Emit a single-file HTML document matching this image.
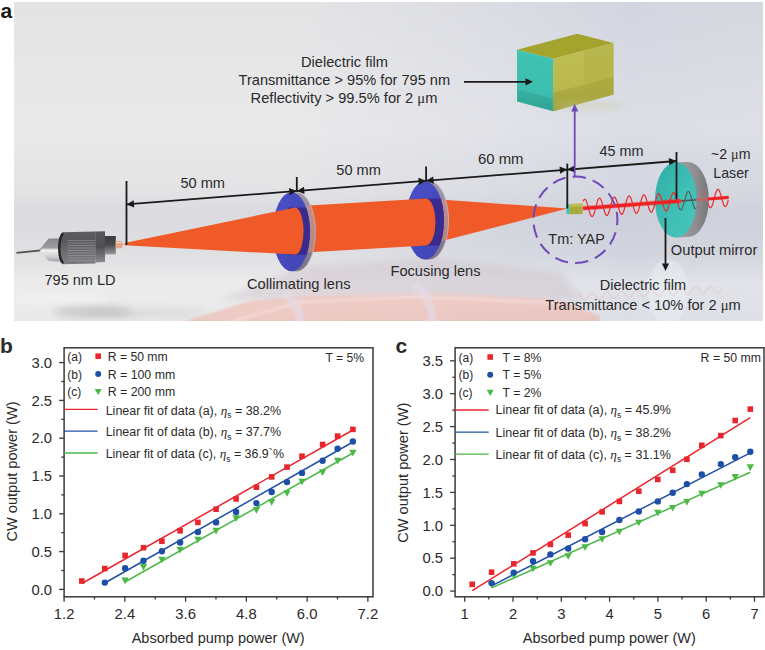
<!DOCTYPE html>
<html><head><meta charset="utf-8"><title>Figure</title>
<style>
html,body{margin:0;padding:0;background:#ffffff;width:765px;height:650px;overflow:hidden;}
svg{display:block;}
text{font-family:"Liberation Sans",sans-serif;}
</style></head><body>
<svg width="765" height="650" viewBox="0 0 765 650">
<rect width="765" height="650" fill="#ffffff"/>
<defs>
<linearGradient id="bgg" x1="0" y1="0" x2="1" y2="0">
 <stop offset="0" stop-color="#e4e4e4"/>
 <stop offset="0.38" stop-color="#e4e4e6"/>
 <stop offset="0.65" stop-color="#dadce3"/>
 <stop offset="0.82" stop-color="#d3d6e0"/>
 <stop offset="1" stop-color="#d6d8e0"/>
</linearGradient>
<linearGradient id="bgv" x1="0" y1="0" x2="0" y2="1">
 <stop offset="0" stop-color="#ffffff" stop-opacity="0"/>
 <stop offset="0.4" stop-color="#ffffff" stop-opacity="0.2"/>
 <stop offset="0.52" stop-color="#ffffff" stop-opacity="0.05"/>
 <stop offset="0.66" stop-color="#b4b8c8" stop-opacity="0.22"/>
 <stop offset="0.76" stop-color="#bcc0cc" stop-opacity="0.14"/>
 <stop offset="0.88" stop-color="#ffffff" stop-opacity="0.3"/>
 <stop offset="1" stop-color="#ffffff" stop-opacity="0.2"/>
</linearGradient>
<linearGradient id="lensg" x1="0" y1="0" x2="1" y2="1">
 <stop offset="0" stop-color="#4b50c8"/>
 <stop offset="1" stop-color="#4044b2"/>
</linearGradient>
<linearGradient id="rimg" x1="0" y1="0" x2="0" y2="1">
 <stop offset="0" stop-color="#a49aa6"/>
 <stop offset="0.5" stop-color="#8e8496"/>
 <stop offset="1" stop-color="#7a7488"/>
</linearGradient>
<linearGradient id="mirg" x1="0" y1="0" x2="1" y2="1">
 <stop offset="0" stop-color="#2fada5"/>
 <stop offset="0.5" stop-color="#3dbdb3"/>
 <stop offset="1" stop-color="#48c8bc"/>
</linearGradient>
<linearGradient id="mrim" x1="0" y1="0" x2="1" y2="0">
 <stop offset="0" stop-color="#a2a2a4"/>
 <stop offset="0.6" stop-color="#8e8e90"/>
 <stop offset="1" stop-color="#77777a"/>
</linearGradient>
<linearGradient id="silver" x1="0" y1="0" x2="0" y2="1">
 <stop offset="0" stop-color="#8a8a8c"/>
 <stop offset="0.38" stop-color="#9c9c9e"/>
 <stop offset="0.5" stop-color="#f2f2f2"/>
 <stop offset="0.75" stop-color="#d2d2d4"/>
 <stop offset="1" stop-color="#a4a4a6"/>
</linearGradient>
<linearGradient id="knurl" x1="0" y1="0" x2="0" y2="1">
 <stop offset="0" stop-color="#5e5e62"/>
 <stop offset="0.25" stop-color="#58585c"/>
 <stop offset="0.6" stop-color="#6c6c70"/>
 <stop offset="1" stop-color="#7e7e82"/>
</linearGradient>
<linearGradient id="body2" x1="0" y1="0" x2="0" y2="1">
 <stop offset="0" stop-color="#58585b"/>
 <stop offset="0.5" stop-color="#505053"/>
 <stop offset="1" stop-color="#8c8c8e"/>
</linearGradient>
<linearGradient id="body3" x1="0" y1="0" x2="0" y2="1">
 <stop offset="0" stop-color="#3c3c3f"/>
 <stop offset="0.45" stop-color="#48484b"/>
 <stop offset="1" stop-color="#9a9a9c"/>
</linearGradient>
<linearGradient id="refl" x1="0" y1="0" x2="0" y2="1">
 <stop offset="0" stop-color="#f4d0c8" stop-opacity="0.3"/>
 <stop offset="0.25" stop-color="#f2c0b6" stop-opacity="0.7"/>
 <stop offset="1" stop-color="#eeb4a8" stop-opacity="0.6"/>
</linearGradient>
<linearGradient id="boxside" x1="0" y1="0" x2="0" y2="1">
 <stop offset="0" stop-color="#bfbf55"/>
 <stop offset="0.65" stop-color="#b9b94e"/>
 <stop offset="1" stop-color="#a3a23a"/>
</linearGradient>
<linearGradient id="boxfront" x1="0" y1="0" x2="0" y2="1">
 <stop offset="0" stop-color="#40c3b2"/>
 <stop offset="0.7" stop-color="#3dbeae"/>
 <stop offset="1" stop-color="#33a898"/>
</linearGradient>
<filter id="blur3" x="-50%" y="-50%" width="200%" height="200%"><feGaussianBlur stdDeviation="3"/></filter>
<filter id="blur4" x="-50%" y="-100%" width="200%" height="300%"><feGaussianBlur stdDeviation="4"/></filter>
<filter id="blur1" x="-50%" y="-50%" width="200%" height="200%"><feGaussianBlur stdDeviation="1.2"/></filter>
<filter id="blur05" x="-20%" y="-50%" width="140%" height="200%"><feGaussianBlur stdDeviation="0.6"/></filter>
<clipPath id="panel"><rect x="14" y="2" width="749" height="319"/></clipPath>
<clipPath id="l1"><ellipse cx="291.5" cy="231.8" rx="18.5" ry="39.5"/></clipPath>
<clipPath id="l2"><ellipse cx="425" cy="220.4" rx="19" ry="39.2"/></clipPath>
<clipPath id="mf"><ellipse cx="675.8" cy="199.9" rx="20.8" ry="37.6"/></clipPath>
</defs>
<rect x="14" y="2" width="749" height="319" fill="url(#bgg)"/>
<rect x="14" y="2" width="749" height="319" fill="url(#bgv)"/>
<g clip-path="url(#panel)">
<ellipse cx="93" cy="312" rx="40" ry="5" fill="#9c9ca2" opacity="0.5" filter="url(#blur4)"/>
<ellipse cx="150" cy="313" rx="60" ry="4" fill="#b0b0b4" opacity="0.3" filter="url(#blur4)"/>
<ellipse cx="60" cy="299" rx="50" ry="4" fill="#ffffff" opacity="0.35" filter="url(#blur3)"/>
<path d="M220 300L300 266L440 258L560 272L585 300Z" fill="#cdbfc8" opacity="0.45" filter="url(#blur3)"/>
<path d="M175 324L250 301L300 296L430 291L560 300L600 316L600 324Z" fill="url(#refl)" filter="url(#blur1)"/>
<path d="M230 322L300 302L420 297L560 303" fill="none" stroke="#ffffff" stroke-opacity="0.25" stroke-width="3" filter="url(#blur1)"/>
<path d="M284 294Q300 303 300 324" fill="none" stroke="#e4def0" stroke-opacity="0.55" stroke-width="8" filter="url(#blur1)"/>
<path d="M415 285Q432 296 432 324" fill="none" stroke="#e4def0" stroke-opacity="0.55" stroke-width="8" filter="url(#blur1)"/>
<ellipse cx="668" cy="292" rx="20" ry="33" fill="#eef6f8" opacity="0.4" filter="url(#blur1)"/>
<path d="M578 293.65L579 294.32L580 295.45L581 296.83L582 298.22L583 299.35L584 300.02L585 300.09L586 299.54L587 298.46L588 297.04L589 295.51L590 294.14L591 293.16L592 292.73L593 292.93L594 293.7L595 294.9L596 296.31L597 297.66L598 298.71L599 299.27L600 299.21L601 298.55L602 297.39L603 295.92L604 294.4L605 293.09L606 292.21L607 291.91L608 292.22L609 293.1L610 294.36L611 295.78L612 297.09L613 298.06L614 298.49L615 298.31L616 297.54L617 296.3L618 294.8L619 293.3L620 292.06L621 291.29L622 291.11L623 291.54L624 292.51L625 293.82L626 295.24L627 296.5L628 297.38L629 297.69L630 297.39L631 296.51L632 295.2L633 293.68L634 292.21L635 291.05L636 290.39L637 290.33L638 290.89L639 291.94L640 293.29L641 294.7L642 295.9L643 296.67L644 296.87L645 296.44L646 295.46L647 294.09L648 292.56L649 291.14L650 290.06L651 289.51L652 289.58L653 290.25L654 291.38L655 292.76L656 294.15L657 295.28L658 295.95L659 296.02L660 295.47L661 294.39L662 292.97L663 291.44L664 290.07L665 289.09L666 288.66L667 288.86L668 289.63L669 290.83L670 292.24L671 293.59L672 294.64L673 295.2L674 295.14L675 294.48L676 293.32L677 291.85L678 290.33L679 289.02L680 288.14L681 287.84L682 288.15L683 289.03L684 290.29L685 291.71L686 293.02L687 293.99L688 294.42L689 294.24L690 293.47L691 292.23L692 290.73L693 289.23L694 287.99L695 287.22L696 287.04L697 287.47L698 288.44L699 289.75L700 291.17L701 292.43L702 293.31L703 293.62L704 293.32L705 292.44L706 291.13L707 289.61L708 288.14L709 286.98L710 286.32L711 286.26L712 286.82L713 287.87L714 289.22L715 290.63L716 291.83L717 292.6L718 292.8L719 292.37L720 291.39L721 290.02L722 288.49" fill="none" stroke="#f08c8c" stroke-opacity="0.22" stroke-width="1.4" filter="url(#blur05)"/>
</g>
<path d="M440 199.4L567.5 208.6L440 241.6Z" fill="#F05A28"/>
<clipPath id="rim2"><path d="M425 181.2L429.6 181.2A19 39.2 0 0 1 429.6 259.6L425 259.6Z"/></clipPath>
<path d="M425 181.2L429.6 181.2A19 39.2 0 0 1 429.6 259.6L425 259.6Z" fill="url(#rimg)"/>
<rect x="425" y="199.5" width="25.6" height="41.5" fill="#e8907a" opacity="0.45" clip-path="url(#rim2)"/>
<path d="M429.6 181.2A19 39.2 0 0 1 429.6 259.6" fill="none" stroke="#c4bcc8" stroke-width="0.9" opacity="0.8"/>
<ellipse cx="425" cy="220.4" rx="19" ry="39.2" fill="url(#lensg)"/>
<g clip-path="url(#l2)"><rect x="420" y="198.5" width="30" height="47" fill="#3A2C8E"/></g>
<path d="M305 205.8L426.5 198.5A9.5 23.5 0 0 1 426.5 245.4L305 252.5Z" fill="#F05A28"/>
<clipPath id="rim1"><path d="M291.5 192.3L296.9 192.3A18.5 39.5 0 0 1 296.9 271.3L291.5 271.3Z"/></clipPath>
<path d="M291.5 192.3L296.9 192.3A18.5 39.5 0 0 1 296.9 271.3L291.5 271.3Z" fill="url(#rimg)"/>
<rect x="291.5" y="206" width="25.9" height="46.5" fill="#e8907a" opacity="0.45" clip-path="url(#rim1)"/>
<path d="M296.9 192.3A18.5 39.5 0 0 1 296.9 271.3" fill="none" stroke="#c4bcc8" stroke-width="0.9" opacity="0.8"/>
<ellipse cx="291.5" cy="231.8" rx="18.5" ry="39.5" fill="url(#lensg)"/>
<g clip-path="url(#l1)"><rect x="288" y="207.6" width="30" height="47.2" fill="#3A2C8E"/></g>
<path d="M124.5 243L294.2 207.7A8.5 23.5 0 0 1 295.8 254.6L124.5 245.3Z" fill="#F05A28"/>
<path d="M16.5 252.9L41 250.4" stroke="#505052" stroke-width="1.6"/>
<path d="M39.7 250.6L48.7 239.2L60.5 238.9L60.5 261.7L48.7 261Z" fill="url(#silver)"/>
<path d="M39.7 250.6L48.7 239.2L60.5 238.9" fill="none" stroke="#6c6c6e" stroke-width="0.8"/>
<path d="M63 232.3L95.5 231.4L95.5 263.4L63 264.3A4.6 16 0 0 1 63 232.3Z" fill="url(#knurl)"/>
<path d="M67.5 240.5H95 M67.5 243H95 M67.5 245.5H95 M67.5 248H95 M67.5 250.5H95 M67.5 253H95 M67.5 255.5H95 M67.5 258H95 M67.5 260.5H95" stroke="#a4a4a8" stroke-width="0.9" opacity="0.55"/>
<path d="M63.5 234A4.2 14.3 0 0 0 63.5 262.6" fill="none" stroke="#26262a" stroke-width="2.4"/>
<path d="M95.3 231.4L105 231.2L105 262L95.3 262.6Z" fill="url(#body2)"/>
<path d="M104.8 236L115.8 235.9L115.8 254.3L104.8 254.5Z" fill="url(#body3)"/>
<path d="M115.6 241L121.6 241Q124.6 244.6 121.6 248.3L115.6 248.3Z" fill="#dfa98a"/>
<path d="M116 242.5H121.5" stroke="#f4d4c0" stroke-width="1"/>
<path d="M569.6 204L582.6 203.6L582.6 214L569.6 214.3Z" fill="#a9a83a"/>
<path d="M569.6 204L582.6 203.6L582.6 206.5L569.6 207Z" fill="#c2c15a" opacity="0.8"/>
<path d="M566.4 204.6L569.6 204L569.6 214.3L566.4 213.7Z" fill="#3cc2b0"/>
<path d="M675.8 162.3L688 161.9A20.8 37.6 0 0 1 688 237.1L675.8 237.5Z" fill="url(#mrim)"/>
<ellipse cx="675.8" cy="199.9" rx="20.8" ry="37.6" fill="url(#mirg)"/>
<path d="M583 201.54L583.7 200.05L584.4 199.27L585.1 199.27L585.8 200.06L586.5 201.54L587.2 203.6L587.9 206.04L588.6 208.65L589.3 211.19L590 213.43L590.7 215.18L591.4 216.28L592.1 216.62L592.8 216.18L593.5 214.97L594.2 213.12L594.9 210.77L595.6 208.12L596.3 205.41L597 202.87L597.7 200.71L598.4 199.12L599.1 198.23L599.8 198.12L600.5 198.8L601.2 200.19L601.9 202.17L602.6 204.57L603.3 207.17L604 209.73L604.7 212.04L605.4 213.87L606.1 215.06L606.8 215.52L607.5 215.18L608.2 214.09L608.9 212.32L609.6 210.03L610.3 207.41L611 204.69L611.7 202.11L612.4 199.88L613.1 198.2L613.8 197.21L614.5 196.99L615.2 197.55L615.9 198.85L616.6 200.76L617.3 203.11L618 205.69L618.7 208.28L619.4 210.63L620.1 212.54L620.8 213.83L621.5 214.4L622.2 214.18L622.9 213.18L623.6 211.5L624.3 209.27L625 206.69L625.7 203.98L626.4 201.36L627.1 199.07L627.8 197.3L628.5 196.2L629.2 195.87L629.9 196.32L630.6 197.52L631.3 199.35L632 201.65L632.7 204.22L633.4 206.81L634.1 209.21L634.8 211.2L635.5 212.59L636.2 213.26L636.9 213.15L637.6 212.27L638.3 210.68L639 208.52L639.7 205.97L640.4 203.26L641.1 200.62L641.8 198.27L642.5 196.41L643.2 195.21L643.9 194.76L644.6 195.11L645.3 196.2L646 197.95L646.7 200.2L647.4 202.74L648.1 205.35L648.8 207.79L649.5 209.84L650.2 211.33L650.9 212.11L651.6 212.12L652.3 211.34L653 209.84L653.7 207.75L654.4 205.25L655.1 202.55L655.8 199.88L656.5 197.47L657.2 195.54L657.9 194.23L658.6 193.68L659.3 193.91L660 194.9L660.7 196.57L661.4 198.75L662.1 201.26L662.8 203.88L663.5 206.35L664.2 208.48L664.9 210.06L665.6 210.94L666.3 211.06L667 210.39L667.7 208.99L668.4 206.98L669.1 204.52L669.8 201.83L670.5 199.15L671.2 196.69L671.9 194.67L672.6 193.27L673.3 192.61L674 192.72L674.7 193.61L675.4 195.19L676.1 197.31L676.8 199.79L677.5 202.4L678.2 204.91L678.9 207.1" fill="none" stroke="#ec2a2a" stroke-width="1.2" opacity="1"/>
<path d="M583 208.3L679.5 201.11" stroke="#f03030" stroke-width="5" opacity="0.35" filter="url(#blur05)"/>
<path d="M583 208.3L679.5 201.11" stroke="#ee2222" stroke-width="3.2"/>
<g clip-path="url(#mf)"><path d="M679 207.38L679.7 208.95L680.4 209.84L681.1 209.96L681.8 209.29L682.5 207.89L683.2 205.87L683.9 203.42L684.6 200.73L685.3 198.04L686 195.59L686.7 193.57L687.4 192.17L688.1 191.5L688.8 191.62L689.5 192.51L690.2 194.09L690.9 196.21L691.6 198.69L692.3 201.3L693 203.81L693.7 206L694.4 207.66L695.1 208.66L695.8 208.89L696.5 208.33L697.2 207.03L697.9 205.09L698.6 202.69L699.3 200.02L700 197.32" fill="none" stroke="#555a5a" stroke-width="1.1" opacity="1"/><path d="M679 201.15L697 199.81" stroke="#555" stroke-width="1.6"/></g>
<circle cx="679.5" cy="201.11" r="2.2" fill="#ff3030"/>
<path d="M697 207.47L697.7 205.7L698.4 203.41L699.1 200.79L699.8 198.08L700.5 195.49L701.2 193.27L701.9 191.58L702.6 190.59L703.3 190.37L704 190.93L704.7 192.23L705.4 194.14L706.1 196.49L706.8 199.08L707.5 201.66" fill="none" stroke="#e86060" stroke-width="1.1" opacity="0.5"/>
<path d="M697 199.81L708 198.99" stroke="#f05050" stroke-width="3" opacity="0.5"/>
<path d="M708 203.38L708.7 205.43L709.4 206.92L710.1 207.7L710.8 207.71L711.5 206.93L712.2 205.43L712.9 203.34L713.6 200.84L714.3 198.14L715 195.47L715.7 193.06L716.4 191.13L717.1 189.82L717.8 189.27L718.5 189.5L719.2 190.49L719.9 192.15L720.6 194.34L721.3 196.85L722 199.47L722.7 201.94L723.4 204.07L724.1 205.65L724.8 206.53L725.5 206.65L726.2 205.98L726.9 204.58L727.6 202.57L728.3 200.11" fill="none" stroke="#ec2a2a" stroke-width="1.2" opacity="1"/>
<path d="M708 198.99L728.7 197.45" stroke="#ee2222" stroke-width="3.2"/>
<ellipse cx="575.4" cy="219.8" rx="42" ry="43.2" fill="none" stroke="#6f48b9" stroke-width="2" pathLength="260" stroke-dasharray="13 7" stroke-dashoffset="7.7"/>
<path d="M126.5 204.4L676.5 161" stroke="#1a1a1a" stroke-width="1.8"/>
<path d="M126.5 181V245" stroke="#1a1a1a" stroke-width="1.8"/>
<path d="M296.8 177V191.5" stroke="#1a1a1a" stroke-width="1.8"/>
<path d="M426.1 166.5V181" stroke="#1a1a1a" stroke-width="1.8"/>
<path d="M567.3 163.6V208.5" stroke="#1a1a1a" stroke-width="1.8"/>
<path d="M676.5 152V199.2" stroke="#1a1a1a" stroke-width="1.8"/>
<path d="M126.5 204.4L133.69 200.22L134.26 207.4Z" fill="#1a1a1a"/>
<path d="M296.8 190.96L289.61 195.14L289.04 187.96Z" fill="#1a1a1a"/>
<path d="M296.8 190.96L303.99 186.78L304.56 193.96Z" fill="#1a1a1a"/>
<path d="M426.1 180.76L418.91 184.94L418.34 177.76Z" fill="#1a1a1a"/>
<path d="M426.1 180.76L433.29 176.58L433.86 183.76Z" fill="#1a1a1a"/>
<path d="M567.3 169.62L560.11 173.8L559.54 166.62Z" fill="#1a1a1a"/>
<path d="M567.3 169.62L574.49 165.44L575.06 172.62Z" fill="#1a1a1a"/>
<path d="M676.5 161L669.31 165.18L668.74 158.01Z" fill="#1a1a1a"/>
<path d="M665.5 218V265" stroke="#1a1a1a" stroke-width="1.8"/>
<path d="M665.5 271L661.9 263.5L669.1 263.5Z" fill="#1a1a1a"/>
<path d="M517 49.8L577.3 33.7L613.5 43.1L553.1 58.8Z" fill="#a4a32e"/>
<path d="M553.1 58.8L613.5 43.1L613.5 94.5L553.1 111.2Z" fill="url(#boxside)"/>
<path d="M584 50.8L613.5 43.1L613.5 94.5L584 102.7Z" fill="#b0b046" opacity="0.5"/>
<path d="M553.1 93L613.5 77L613.5 94.5L553.1 111.2Z" fill="#a4a23a" opacity="0.55" filter="url(#blur05)"/>
<path d="M517 49.8L553.1 58.8L553.1 111.2L517 101.4Z" fill="url(#boxfront)"/>
<path d="M517.3 89.5L552.8 98.5L552.8 110.8L517.3 101.1Z" fill="#2f9e90" opacity="0.45" filter="url(#blur05)"/>
<ellipse cx="590" cy="106" rx="35" ry="5" fill="#c8c8a0" opacity="0.35" filter="url(#blur3)"/>
<path d="M464 81.8H527" stroke="#1a1a1a" stroke-width="1.8"/>
<path d="M533 81.8L525.5 85.4L525.5 78.2Z" fill="#1a1a1a"/>
<path d="M574.7 110V177" stroke="#6f48b9" stroke-width="1.8"/>
<path d="M574.7 104L578.3 111.5L571.1 111.5Z" fill="#6f48b9"/>
<g fill="#2a2a2a">
<text x="301" y="67.1" font-size="14.5" text-anchor="start" textLength="87" lengthAdjust="spacingAndGlyphs">Dielectric film</text>
<text x="238.6" y="85.2" font-size="14.5" text-anchor="start" textLength="211.5" lengthAdjust="spacingAndGlyphs">Transmittance &gt; 95% for 795 nm</text>
<text x="250.6" y="102.7" font-size="14.5" text-anchor="start" textLength="186.8" lengthAdjust="spacingAndGlyphs">Reflectivity &gt; 99.5% for 2 <tspan font-family='Liberation Serif'>μ</tspan>m</text>
<text x="180.5" y="188" font-size="14.3" text-anchor="start" textLength="44.5" lengthAdjust="spacingAndGlyphs">50 mm</text>
<text x="336.3" y="175.3" font-size="14.3" text-anchor="start" textLength="44.5" lengthAdjust="spacingAndGlyphs">50 mm</text>
<text x="478" y="164" font-size="14.3" text-anchor="start" textLength="45.5" lengthAdjust="spacingAndGlyphs">60 mm</text>
<text x="599.5" y="156" font-size="14.3" text-anchor="start" textLength="44" lengthAdjust="spacingAndGlyphs">45 mm</text>
<text x="44.5" y="285" font-size="14.3" text-anchor="start" textLength="71" lengthAdjust="spacingAndGlyphs">795 nm LD</text>
<text x="247" y="288.6" font-size="14.5" text-anchor="start" textLength="103.5" lengthAdjust="spacingAndGlyphs">Collimating lens</text>
<text x="390.5" y="276" font-size="14.5" text-anchor="start" textLength="90" lengthAdjust="spacingAndGlyphs">Focusing lens</text>
<text x="548.3" y="243.5" font-size="14.3" text-anchor="start" textLength="56.5" lengthAdjust="spacingAndGlyphs">Tm: YAP</text>
<text x="711" y="158.8" font-size="14.3" text-anchor="start" textLength="39.5" lengthAdjust="spacingAndGlyphs">~2 <tspan font-family='Liberation Serif'>μ</tspan>m</text>
<text x="713.3" y="178.2" font-size="14.3" text-anchor="start" textLength="35.5" lengthAdjust="spacingAndGlyphs">Laser</text>
<text x="670.8" y="254.7" font-size="14.5" text-anchor="start" textLength="86.5" lengthAdjust="spacingAndGlyphs">Output mirror</text>
<text x="599.7" y="290.4" font-size="14.5" text-anchor="start" textLength="86.5" lengthAdjust="spacingAndGlyphs">Dielectric film</text>
<text x="545.3" y="309.7" font-size="14.5" text-anchor="start" textLength="195.5" lengthAdjust="spacingAndGlyphs">Transmittance &lt; 10% for 2 <tspan font-family='Liberation Serif'>μ</tspan>m</text>
</g>
<text x="0.5" y="17.6" font-size="21" font-weight="bold" fill="#1a1a1a">a</text>
<g fill="#2a2a2a">
<line x1="81.8" y1="583.5" x2="352.9" y2="430" stroke="#E8262D" stroke-width="1.5"/>
<line x1="104.8" y1="583" x2="352.9" y2="442" stroke="#1E4FA6" stroke-width="1.5"/>
<line x1="125" y1="582" x2="352.9" y2="453" stroke="#4DB848" stroke-width="1.5"/>
<path d="M121.4 577.53L128.8 577.53L125.1 584.13Z" fill="#4DB848"/>
<path d="M139.8 564.03L147.2 564.03L143.5 570.63Z" fill="#4DB848"/>
<path d="M158.2 556.63L165.6 556.63L161.9 563.23Z" fill="#4DB848"/>
<path d="M176.4 546.83L183.8 546.83L180.1 553.43Z" fill="#4DB848"/>
<path d="M194.2 536.73L201.6 536.73L197.9 543.33Z" fill="#4DB848"/>
<path d="M212.4 527.83L219.8 527.83L216.1 534.43Z" fill="#4DB848"/>
<path d="M232.4 515.33L239.8 515.33L236.1 521.93Z" fill="#4DB848"/>
<path d="M252.7 507.03L260.1 507.03L256.4 513.63Z" fill="#4DB848"/>
<path d="M268 499.03L275.4 499.03L271.7 505.63Z" fill="#4DB848"/>
<path d="M283.3 490.23L290.7 490.23L287 496.83Z" fill="#4DB848"/>
<path d="M298.3 478.73L305.7 478.73L302 485.33Z" fill="#4DB848"/>
<path d="M318.9 469.33L326.3 469.33L322.6 475.93Z" fill="#4DB848"/>
<path d="M333.9 457.83L341.3 457.83L337.6 464.43Z" fill="#4DB848"/>
<path d="M349.2 449.83L356.6 449.83L352.9 456.43Z" fill="#4DB848"/>
<circle cx="104.8" cy="582.6" r="3.2" fill="#1E4FA6"/>
<circle cx="125.1" cy="568.2" r="3.2" fill="#1E4FA6"/>
<circle cx="143.5" cy="560.7" r="3.2" fill="#1E4FA6"/>
<circle cx="161.9" cy="551.3" r="3.2" fill="#1E4FA6"/>
<circle cx="180.1" cy="542.5" r="3.2" fill="#1E4FA6"/>
<circle cx="197.9" cy="532" r="3.2" fill="#1E4FA6"/>
<circle cx="216.1" cy="522.4" r="3.2" fill="#1E4FA6"/>
<circle cx="236.1" cy="512" r="3.2" fill="#1E4FA6"/>
<circle cx="256.4" cy="503.1" r="3.2" fill="#1E4FA6"/>
<circle cx="271.7" cy="492" r="3.2" fill="#1E4FA6"/>
<circle cx="287" cy="482.1" r="3.2" fill="#1E4FA6"/>
<circle cx="302" cy="472.9" r="3.2" fill="#1E4FA6"/>
<circle cx="322.6" cy="460.8" r="3.2" fill="#1E4FA6"/>
<circle cx="337.6" cy="448.7" r="3.2" fill="#1E4FA6"/>
<circle cx="352.9" cy="441.5" r="3.2" fill="#1E4FA6"/>
<rect x="79" y="578.2" width="5.6" height="5.6" fill="#E8262D"/>
<rect x="102" y="565.8" width="5.6" height="5.6" fill="#E8262D"/>
<rect x="122.3" y="552.6" width="5.6" height="5.6" fill="#E8262D"/>
<rect x="140.7" y="544.9" width="5.6" height="5.6" fill="#E8262D"/>
<rect x="159.1" y="538.4" width="5.6" height="5.6" fill="#E8262D"/>
<rect x="177.3" y="528" width="5.6" height="5.6" fill="#E8262D"/>
<rect x="195.1" y="519.6" width="5.6" height="5.6" fill="#E8262D"/>
<rect x="213.3" y="506.4" width="5.6" height="5.6" fill="#E8262D"/>
<rect x="233.3" y="496.1" width="5.6" height="5.6" fill="#E8262D"/>
<rect x="253.6" y="484.4" width="5.6" height="5.6" fill="#E8262D"/>
<rect x="268.9" y="474.1" width="5.6" height="5.6" fill="#E8262D"/>
<rect x="284.2" y="464.3" width="5.6" height="5.6" fill="#E8262D"/>
<rect x="299.2" y="453.4" width="5.6" height="5.6" fill="#E8262D"/>
<rect x="319.8" y="441.7" width="5.6" height="5.6" fill="#E8262D"/>
<rect x="334.8" y="433.3" width="5.6" height="5.6" fill="#E8262D"/>
<rect x="350.1" y="426.6" width="5.6" height="5.6" fill="#E8262D"/>
<rect x="64.1" y="347.8" width="308.9" height="249" fill="none" stroke="#3a3a3a" stroke-width="1.5"/>
<line x1="59.1" y1="589.4" x2="64.1" y2="589.4" stroke="#3a3a3a" stroke-width="1.3"/>
<text x="52.1" y="594.6" font-size="14.8" text-anchor="end">0.0</text>
<line x1="59.1" y1="551.6" x2="64.1" y2="551.6" stroke="#3a3a3a" stroke-width="1.3"/>
<text x="52.1" y="556.8" font-size="14.8" text-anchor="end">0.5</text>
<line x1="59.1" y1="513.8" x2="64.1" y2="513.8" stroke="#3a3a3a" stroke-width="1.3"/>
<text x="52.1" y="519" font-size="14.8" text-anchor="end">1.0</text>
<line x1="59.1" y1="476" x2="64.1" y2="476" stroke="#3a3a3a" stroke-width="1.3"/>
<text x="52.1" y="481.2" font-size="14.8" text-anchor="end">1.5</text>
<line x1="59.1" y1="438.2" x2="64.1" y2="438.2" stroke="#3a3a3a" stroke-width="1.3"/>
<text x="52.1" y="443.4" font-size="14.8" text-anchor="end">2.0</text>
<line x1="59.1" y1="400.4" x2="64.1" y2="400.4" stroke="#3a3a3a" stroke-width="1.3"/>
<text x="52.1" y="405.6" font-size="14.8" text-anchor="end">2.5</text>
<line x1="59.1" y1="362.6" x2="64.1" y2="362.6" stroke="#3a3a3a" stroke-width="1.3"/>
<text x="52.1" y="367.8" font-size="14.8" text-anchor="end">3.0</text>
<line x1="61.3" y1="570.5" x2="64.1" y2="570.5" stroke="#3a3a3a" stroke-width="1.3"/>
<line x1="61.3" y1="532.7" x2="64.1" y2="532.7" stroke="#3a3a3a" stroke-width="1.3"/>
<line x1="61.3" y1="494.9" x2="64.1" y2="494.9" stroke="#3a3a3a" stroke-width="1.3"/>
<line x1="61.3" y1="457.1" x2="64.1" y2="457.1" stroke="#3a3a3a" stroke-width="1.3"/>
<line x1="61.3" y1="419.3" x2="64.1" y2="419.3" stroke="#3a3a3a" stroke-width="1.3"/>
<line x1="61.3" y1="381.5" x2="64.1" y2="381.5" stroke="#3a3a3a" stroke-width="1.3"/>
<line x1="64.1" y1="596.8" x2="64.1" y2="601.8" stroke="#3a3a3a" stroke-width="1.3"/>
<text x="64.1" y="619" font-size="14.8" text-anchor="middle">1.2</text>
<line x1="124.86" y1="596.8" x2="124.86" y2="601.8" stroke="#3a3a3a" stroke-width="1.3"/>
<text x="124.86" y="619" font-size="14.8" text-anchor="middle">2.4</text>
<line x1="185.61" y1="596.8" x2="185.61" y2="601.8" stroke="#3a3a3a" stroke-width="1.3"/>
<text x="185.61" y="619" font-size="14.8" text-anchor="middle">3.6</text>
<line x1="246.37" y1="596.8" x2="246.37" y2="601.8" stroke="#3a3a3a" stroke-width="1.3"/>
<text x="246.37" y="619" font-size="14.8" text-anchor="middle">4.8</text>
<line x1="307.12" y1="596.8" x2="307.12" y2="601.8" stroke="#3a3a3a" stroke-width="1.3"/>
<text x="307.12" y="619" font-size="14.8" text-anchor="middle">6.0</text>
<line x1="367.88" y1="596.8" x2="367.88" y2="601.8" stroke="#3a3a3a" stroke-width="1.3"/>
<text x="367.88" y="619" font-size="14.8" text-anchor="middle">7.2</text>
<line x1="94.48" y1="596.8" x2="94.48" y2="599.6" stroke="#3a3a3a" stroke-width="1.3"/>
<line x1="155.23" y1="596.8" x2="155.23" y2="599.6" stroke="#3a3a3a" stroke-width="1.3"/>
<line x1="215.99" y1="596.8" x2="215.99" y2="599.6" stroke="#3a3a3a" stroke-width="1.3"/>
<line x1="276.75" y1="596.8" x2="276.75" y2="599.6" stroke="#3a3a3a" stroke-width="1.3"/>
<line x1="337.5" y1="596.8" x2="337.5" y2="599.6" stroke="#3a3a3a" stroke-width="1.3"/>
<text transform="translate(16.5 471.5) rotate(-90)" x="0" y="0" font-size="14.5" text-anchor="middle" textLength="140" lengthAdjust="spacingAndGlyphs">CW output power (W)</text>
<text x="218.2" y="642.6" font-size="14.5" text-anchor="middle" textLength="173" lengthAdjust="spacingAndGlyphs">Absorbed pump power (W)</text>
<text x="67.3" y="360.7" font-size="12" text-anchor="start">(a)</text>
<rect x="95.4" y="353.4" width="5.6" height="5.6" fill="#E8262D"/>
<text x="107.7" y="360.7" font-size="12" text-anchor="start" textLength="60" lengthAdjust="spacingAndGlyphs">R = 50 mm</text>
<text x="67.3" y="378.6" font-size="12" text-anchor="start">(b)</text>
<circle cx="98.2" cy="374.1" r="3" fill="#1E4FA6"/>
<text x="107.7" y="378.6" font-size="12" text-anchor="start" textLength="67.5" lengthAdjust="spacingAndGlyphs">R = 100 mm</text>
<text x="67.3" y="396.4" font-size="12" text-anchor="start">(c)</text>
<path d="M94.7 389.11L101.7 389.11L98.2 395.31Z" fill="#4DB848"/>
<text x="107.7" y="396.4" font-size="12" text-anchor="start" textLength="67.5" lengthAdjust="spacingAndGlyphs">R = 200 mm</text>
<line x1="64.1" y1="409.4" x2="97.6" y2="409.4" stroke="#E8262D" stroke-width="1.3"/>
<text x="105.7" y="414.5" font-size="12.3" textLength="175.3" lengthAdjust="spacingAndGlyphs">Linear fit of data (a), <tspan font-family="Liberation Serif" font-style="italic" font-size="13">η</tspan><tspan font-size="8.3" dy="3.8">s</tspan><tspan dy="-3.8"> = 38.2%</tspan></text>
<line x1="64.1" y1="431.1" x2="97.6" y2="431.1" stroke="#1E4FA6" stroke-width="1.3"/>
<text x="105.7" y="436.2" font-size="12.3" textLength="175.3" lengthAdjust="spacingAndGlyphs">Linear fit of data (b), <tspan font-family="Liberation Serif" font-style="italic" font-size="13">η</tspan><tspan font-size="8.3" dy="3.8">s</tspan><tspan dy="-3.8"> = 37.7%</tspan></text>
<line x1="64.1" y1="453" x2="97.6" y2="453" stroke="#4DB848" stroke-width="1.3"/>
<text x="105.7" y="458.1" font-size="12.3" textLength="178.3" lengthAdjust="spacingAndGlyphs">Linear fit of data (c), <tspan font-family="Liberation Serif" font-style="italic" font-size="13">η</tspan><tspan font-size="8.3" dy="3.8">s</tspan><tspan dy="-3.8"> = 36.9`%</tspan></text>
<text x="364" y="362" font-size="12" text-anchor="end" textLength="38.5" lengthAdjust="spacingAndGlyphs">T = 5%</text>
<text x="0" y="352.5" font-size="21" font-weight="bold">b</text>
<line x1="472.2" y1="590.7" x2="750.3" y2="417.7" stroke="#E8262D" stroke-width="1.5"/>
<line x1="491.6" y1="585.8" x2="750.3" y2="452.8" stroke="#1E4FA6" stroke-width="1.5"/>
<line x1="491.6" y1="587.9" x2="750.3" y2="472.3" stroke="#4DB848" stroke-width="1.5"/>
<path d="M487.9 581.73L495.3 581.73L491.6 588.33Z" fill="#4DB848"/>
<path d="M510.1 572.33L517.5 572.33L513.8 578.93Z" fill="#4DB848"/>
<path d="M529.3 565.63L536.7 565.63L533 572.23Z" fill="#4DB848"/>
<path d="M546.7 560.23L554.1 560.23L550.4 566.83Z" fill="#4DB848"/>
<path d="M564.5 553.13L571.9 553.13L568.2 559.73Z" fill="#4DB848"/>
<path d="M581.4 544.13L588.8 544.13L585.1 550.73Z" fill="#4DB848"/>
<path d="M598.4 536.13L605.8 536.13L602.1 542.73Z" fill="#4DB848"/>
<path d="M615.7 528.63L623.1 528.63L619.4 535.23Z" fill="#4DB848"/>
<path d="M635.1 519.73L642.5 519.73L638.8 526.33Z" fill="#4DB848"/>
<path d="M654.1 509.83L661.5 509.83L657.8 516.43Z" fill="#4DB848"/>
<path d="M669 504.93L676.4 504.93L672.7 511.53Z" fill="#4DB848"/>
<path d="M683.2 499.03L690.6 499.03L686.9 505.63Z" fill="#4DB848"/>
<path d="M698.1 490.83L705.5 490.83L701.8 497.43Z" fill="#4DB848"/>
<path d="M717.1 482.23L724.5 482.23L720.8 488.83Z" fill="#4DB848"/>
<path d="M731.5 474.03L738.9 474.03L735.2 480.63Z" fill="#4DB848"/>
<path d="M746.6 464.33L754 464.33L750.3 470.93Z" fill="#4DB848"/>
<circle cx="491.6" cy="583.1" r="3.2" fill="#1E4FA6"/>
<circle cx="513.8" cy="572.6" r="3.2" fill="#1E4FA6"/>
<circle cx="533" cy="561.1" r="3.2" fill="#1E4FA6"/>
<circle cx="550.4" cy="554.4" r="3.2" fill="#1E4FA6"/>
<circle cx="568.2" cy="548.5" r="3.2" fill="#1E4FA6"/>
<circle cx="585.1" cy="539.3" r="3.2" fill="#1E4FA6"/>
<circle cx="602.1" cy="532" r="3.2" fill="#1E4FA6"/>
<circle cx="619.4" cy="520" r="3.2" fill="#1E4FA6"/>
<circle cx="638.8" cy="511.5" r="3.2" fill="#1E4FA6"/>
<circle cx="657.8" cy="501.4" r="3.2" fill="#1E4FA6"/>
<circle cx="672.7" cy="492.8" r="3.2" fill="#1E4FA6"/>
<circle cx="686.9" cy="484.1" r="3.2" fill="#1E4FA6"/>
<circle cx="701.8" cy="474.4" r="3.2" fill="#1E4FA6"/>
<circle cx="720.8" cy="464.1" r="3.2" fill="#1E4FA6"/>
<circle cx="735.2" cy="457.2" r="3.2" fill="#1E4FA6"/>
<circle cx="750.3" cy="451.8" r="3.2" fill="#1E4FA6"/>
<rect x="469.4" y="581.5" width="5.6" height="5.6" fill="#E8262D"/>
<rect x="488.8" y="569.4" width="5.6" height="5.6" fill="#E8262D"/>
<rect x="511" y="561" width="5.6" height="5.6" fill="#E8262D"/>
<rect x="530.2" y="550.1" width="5.6" height="5.6" fill="#E8262D"/>
<rect x="547.6" y="541.6" width="5.6" height="5.6" fill="#E8262D"/>
<rect x="565.4" y="532.3" width="5.6" height="5.6" fill="#E8262D"/>
<rect x="582.3" y="520.8" width="5.6" height="5.6" fill="#E8262D"/>
<rect x="599.3" y="509.1" width="5.6" height="5.6" fill="#E8262D"/>
<rect x="616.6" y="498.6" width="5.6" height="5.6" fill="#E8262D"/>
<rect x="636" y="488.4" width="5.6" height="5.6" fill="#E8262D"/>
<rect x="655" y="476.6" width="5.6" height="5.6" fill="#E8262D"/>
<rect x="669.9" y="467.5" width="5.6" height="5.6" fill="#E8262D"/>
<rect x="684.1" y="456.5" width="5.6" height="5.6" fill="#E8262D"/>
<rect x="699" y="442.5" width="5.6" height="5.6" fill="#E8262D"/>
<rect x="718" y="432.8" width="5.6" height="5.6" fill="#E8262D"/>
<rect x="732.4" y="417.7" width="5.6" height="5.6" fill="#E8262D"/>
<rect x="747.5" y="406.3" width="5.6" height="5.6" fill="#E8262D"/>
<rect x="455.1" y="347.8" width="308.9" height="249" fill="none" stroke="#3a3a3a" stroke-width="1.5"/>
<line x1="450.1" y1="591.1" x2="455.1" y2="591.1" stroke="#3a3a3a" stroke-width="1.3"/>
<text x="443.1" y="596.3" font-size="14.8" text-anchor="end">0.0</text>
<line x1="450.1" y1="558.2" x2="455.1" y2="558.2" stroke="#3a3a3a" stroke-width="1.3"/>
<text x="443.1" y="563.4" font-size="14.8" text-anchor="end">0.5</text>
<line x1="450.1" y1="525.3" x2="455.1" y2="525.3" stroke="#3a3a3a" stroke-width="1.3"/>
<text x="443.1" y="530.5" font-size="14.8" text-anchor="end">1.0</text>
<line x1="450.1" y1="492.4" x2="455.1" y2="492.4" stroke="#3a3a3a" stroke-width="1.3"/>
<text x="443.1" y="497.6" font-size="14.8" text-anchor="end">1.5</text>
<line x1="450.1" y1="459.5" x2="455.1" y2="459.5" stroke="#3a3a3a" stroke-width="1.3"/>
<text x="443.1" y="464.7" font-size="14.8" text-anchor="end">2.0</text>
<line x1="450.1" y1="426.6" x2="455.1" y2="426.6" stroke="#3a3a3a" stroke-width="1.3"/>
<text x="443.1" y="431.8" font-size="14.8" text-anchor="end">2.5</text>
<line x1="450.1" y1="393.7" x2="455.1" y2="393.7" stroke="#3a3a3a" stroke-width="1.3"/>
<text x="443.1" y="398.9" font-size="14.8" text-anchor="end">3.0</text>
<line x1="450.1" y1="360.8" x2="455.1" y2="360.8" stroke="#3a3a3a" stroke-width="1.3"/>
<text x="443.1" y="366" font-size="14.8" text-anchor="end">3.5</text>
<line x1="452.3" y1="574.65" x2="455.1" y2="574.65" stroke="#3a3a3a" stroke-width="1.3"/>
<line x1="452.3" y1="541.75" x2="455.1" y2="541.75" stroke="#3a3a3a" stroke-width="1.3"/>
<line x1="452.3" y1="508.85" x2="455.1" y2="508.85" stroke="#3a3a3a" stroke-width="1.3"/>
<line x1="452.3" y1="475.95" x2="455.1" y2="475.95" stroke="#3a3a3a" stroke-width="1.3"/>
<line x1="452.3" y1="443.05" x2="455.1" y2="443.05" stroke="#3a3a3a" stroke-width="1.3"/>
<line x1="452.3" y1="410.15" x2="455.1" y2="410.15" stroke="#3a3a3a" stroke-width="1.3"/>
<line x1="452.3" y1="377.25" x2="455.1" y2="377.25" stroke="#3a3a3a" stroke-width="1.3"/>
<line x1="464.7" y1="596.8" x2="464.7" y2="601.8" stroke="#3a3a3a" stroke-width="1.3"/>
<text x="464.7" y="619" font-size="14.8" text-anchor="middle">1</text>
<line x1="513" y1="596.8" x2="513" y2="601.8" stroke="#3a3a3a" stroke-width="1.3"/>
<text x="513" y="619" font-size="14.8" text-anchor="middle">2</text>
<line x1="561.3" y1="596.8" x2="561.3" y2="601.8" stroke="#3a3a3a" stroke-width="1.3"/>
<text x="561.3" y="619" font-size="14.8" text-anchor="middle">3</text>
<line x1="609.6" y1="596.8" x2="609.6" y2="601.8" stroke="#3a3a3a" stroke-width="1.3"/>
<text x="609.6" y="619" font-size="14.8" text-anchor="middle">4</text>
<line x1="657.9" y1="596.8" x2="657.9" y2="601.8" stroke="#3a3a3a" stroke-width="1.3"/>
<text x="657.9" y="619" font-size="14.8" text-anchor="middle">5</text>
<line x1="706.2" y1="596.8" x2="706.2" y2="601.8" stroke="#3a3a3a" stroke-width="1.3"/>
<text x="706.2" y="619" font-size="14.8" text-anchor="middle">6</text>
<line x1="754.5" y1="596.8" x2="754.5" y2="601.8" stroke="#3a3a3a" stroke-width="1.3"/>
<text x="754.5" y="619" font-size="14.8" text-anchor="middle">7</text>
<line x1="488.85" y1="596.8" x2="488.85" y2="599.6" stroke="#3a3a3a" stroke-width="1.3"/>
<line x1="537.15" y1="596.8" x2="537.15" y2="599.6" stroke="#3a3a3a" stroke-width="1.3"/>
<line x1="585.45" y1="596.8" x2="585.45" y2="599.6" stroke="#3a3a3a" stroke-width="1.3"/>
<line x1="633.75" y1="596.8" x2="633.75" y2="599.6" stroke="#3a3a3a" stroke-width="1.3"/>
<line x1="682.05" y1="596.8" x2="682.05" y2="599.6" stroke="#3a3a3a" stroke-width="1.3"/>
<line x1="730.35" y1="596.8" x2="730.35" y2="599.6" stroke="#3a3a3a" stroke-width="1.3"/>
<text transform="translate(408 472.7) rotate(-90)" x="0" y="0" font-size="14.5" text-anchor="middle" textLength="140" lengthAdjust="spacingAndGlyphs">CW output power (W)</text>
<text x="609.3" y="642.6" font-size="14.5" text-anchor="middle" textLength="173" lengthAdjust="spacingAndGlyphs">Absorbed pump power (W)</text>
<text x="458.6" y="361.5" font-size="12" text-anchor="start">(a)</text>
<rect x="487.4" y="354.2" width="5.6" height="5.6" fill="#E8262D"/>
<text x="502.5" y="361.5" font-size="12" text-anchor="start" textLength="38.8" lengthAdjust="spacingAndGlyphs">T = 8%</text>
<text x="458.6" y="379.3" font-size="12" text-anchor="start">(b)</text>
<circle cx="490.2" cy="374.8" r="3" fill="#1E4FA6"/>
<text x="502.5" y="379.3" font-size="12" text-anchor="start" textLength="38.8" lengthAdjust="spacingAndGlyphs">T = 5%</text>
<text x="458.6" y="397" font-size="12" text-anchor="start">(c)</text>
<path d="M486.7 389.71L493.7 389.71L490.2 395.91Z" fill="#4DB848"/>
<text x="502.5" y="397" font-size="12" text-anchor="start" textLength="38.8" lengthAdjust="spacingAndGlyphs">T = 2%</text>
<line x1="455.1" y1="410" x2="488.7" y2="410" stroke="#E8262D" stroke-width="1.3"/>
<text x="495.6" y="414.2" font-size="12.3" textLength="175.3" lengthAdjust="spacingAndGlyphs">Linear fit of data (a), <tspan font-family="Liberation Serif" font-style="italic" font-size="13">η</tspan><tspan font-size="8.3" dy="3.8">s</tspan><tspan dy="-3.8"> = 45.9%</tspan></text>
<line x1="455.1" y1="432.2" x2="488.7" y2="432.2" stroke="#1E4FA6" stroke-width="1.3"/>
<text x="495.6" y="436.7" font-size="12.3" textLength="175.3" lengthAdjust="spacingAndGlyphs">Linear fit of data (b), <tspan font-family="Liberation Serif" font-style="italic" font-size="13">η</tspan><tspan font-size="8.3" dy="3.8">s</tspan><tspan dy="-3.8"> = 38.2%</tspan></text>
<line x1="455.1" y1="454.1" x2="488.7" y2="454.1" stroke="#4DB848" stroke-width="1.3"/>
<text x="495.6" y="458.6" font-size="12.3" textLength="175.3" lengthAdjust="spacingAndGlyphs">Linear fit of data (c), <tspan font-family="Liberation Serif" font-style="italic" font-size="13">η</tspan><tspan font-size="8.3" dy="3.8">s</tspan><tspan dy="-3.8"> = 31.1%</tspan></text>
<text x="761" y="362" font-size="12" text-anchor="end" textLength="60.4" lengthAdjust="spacingAndGlyphs">R = 50 mm</text>
<text x="395.5" y="352.5" font-size="21" font-weight="bold">c</text>
</g>
</svg>
</body></html>
